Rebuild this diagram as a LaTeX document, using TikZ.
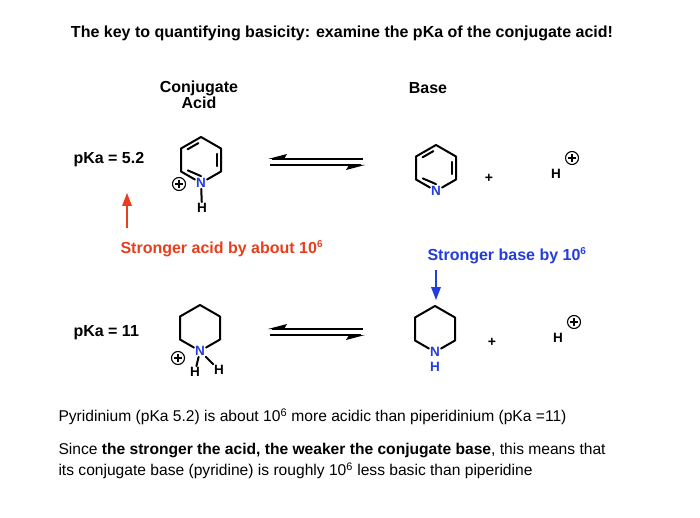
\documentclass[tikz,border=0pt]{standalone}
\usepackage{fontspec}
\setmainfont{Liberation Sans}
\usetikzlibrary{calc}
\definecolor{myred}{RGB}{232,62,30}
\definecolor{myblue}{RGB}{35,60,220}
\tikzset{
  bond/.style={line width=2pt,line cap=round,line join=round},
  atomN/.style={text=myblue,font=\bfseries\fontsize{13.5}{13.5}\selectfont,inner sep=1pt},
  atomH/.style={font=\bfseries\fontsize{13.5}{13.5}\selectfont,inner sep=1pt},
  lbl/.style={font=\bfseries\fontsize{16}{16}\selectfont,align=center},
  body/.style={font=\fontsize{15.6}{17}\selectfont,anchor=west}
}
\newcommand{\ringat}[3]{%
  \coordinate (#1c) at (#2,#3);
  \coordinate (#11) at (#2,#3-23);
  \coordinate (#12) at (#2+20,#3-11.5);
  \coordinate (#13) at (#2+20,#3+11.5);
  \coordinate (#14) at (#2,#3+23);
  \coordinate (#15) at (#2-20,#3+11.5);
  \coordinate (#16) at (#2-20,#3-11.5);}
\newcommand{\inner}[3]{\draw[bond,shorten <=3pt,shorten >=3pt] ($(#1#2)!0.2!(#1c)$) -- ($(#1#3)!0.2!(#1c)$);}
\newcommand{\cplus}[2]{\draw[line width=1.1pt] (#1,#2) circle (6.5); \draw[line width=1.1pt] (#1-4,#2)--(#1+4,#2) (#1,#2-4)--(#1,#2+4);}
\begin{document}
\begin{tikzpicture}[x=1pt,y=-1pt]
\useasboundingbox (0,0) rectangle (700,518);
\node[font=\bfseries\fontsize{16}{18}\selectfont] (title) at (342,33) {The key to quantifying basicity: examine the pKa of the conjugate acid!};
\node[lbl,font=\bfseries\fontsize{16}{14}\selectfont] (ca) at (199,95) {Conjugate\\Acid};
\node[lbl] (bs) at (428,88) {Base};
\node[lbl,anchor=west] (pk1) at (70,160) {pKa = 5.2};
\node[lbl,anchor=west] (pk2) at (70,333) {pKa = 11};
% pyridinium
\ringat{a}{201}{160}
\node[atomN] (aN) at (a4) {N};
\draw[bond] (aN) -- (a3) -- (a2) -- (a1) -- (a6) -- (a5) -- (aN);
\inner{a}{1}{6}\inner{a}{2}{3}
\draw[bond,shorten <=3pt] ($(a5)!0.2!(ac)$) -- ($(aN.center)!0.3!(ac)$);
\node[atomH] (aH) at (202,208) {H};
\draw[bond] (aN) -- (aH);
\cplus{179}{184}
% pyridine
\ringat{b}{436}{168}
\node[atomN] (bN) at (b4) {N};
\draw[bond] (bN) -- (b3) -- (b2) -- (b1) -- (b6) -- (b5) -- (bN);
\inner{b}{1}{6}\inner{b}{2}{3}
\draw[bond,shorten <=3pt] ($(b5)!0.2!(bc)$) -- ($(bN.center)!0.3!(bc)$);
% piperidinium
\ringat{c}{200}{328}
\node[atomN] (cN) at (c4) {N};
\draw[bond] (cN) -- (c3) -- (c2) -- (c1) -- (c6) -- (c5) -- (cN);
\node[atomH] (cH1) at (195,372) {H};
\node[atomH] (cH2) at (219,370) {H};
\draw[bond] (cN) -- (cH1); \draw[bond] (cN) -- (cH2);
\cplus{178}{358}
% piperidine
\ringat{d}{435}{329}
\node[atomN] (dN) at (d4) {N};
\draw[bond] (dN) -- (d3) -- (d2) -- (d1) -- (d6) -- (d5) -- (dN);
\node[atomH,text=myblue] (dH) at (435,367) {H};
% equilibrium arrows
\foreach \y in {159,329}{
  \draw[line width=1.4pt] (272,\y) -- (363,\y);
  \draw[line width=1.4pt] (270,\y+6) -- (361,\y+6);
  \fill (268,\y) -- (287,\y-5) -- (284,\y) -- cycle;
  \fill (365,\y+6) -- (346,\y+11) -- (349,\y+6) -- cycle;
}
% plus and protons
\node[lbl,font=\bfseries\fontsize{14}{14}\selectfont] (pl1) at (489,178) {+};
\node[lbl,font=\bfseries\fontsize{14}{14}\selectfont] (pl2) at (492,342) {+};
\node[atomH] (h1) at (556,174) {H};
\node[atomH] (h2) at (558,338) {H};
\cplus{572}{158}
\cplus{574}{322}
% coloured arrows & labels
\node[lbl,text=myred,anchor=west] (sa) at (117,249) {Stronger acid by about 10\textsuperscript{\fontsize{10}{10}\selectfont 6}};
\node[lbl,text=myblue,anchor=west] (sb) at (424,256) {Stronger base by 10\textsuperscript{\fontsize{10}{10}\selectfont 6}};
\coordinate (ra1) at (127,228); \coordinate (ra2) at (127,193);
\draw[myred,line width=1.8pt] (ra1) -- (127,203);
\fill[myred] (ra2) -- (122,206) -- (132,206) -- cycle;
\coordinate (ba1) at (436,270); \coordinate (ba2) at (436,300);
\draw[myblue,line width=1.8pt] (ba1) -- (436,290);
\fill[myblue] (ba2) -- (431,287) -- (441,287) -- cycle;
% body text
\node[body] (t1) at (55,417) {Pyridinium (pKa 5.2) is about 10\textsuperscript{6} more acidic than piperidinium (pKa =11)};
\node[body] (t2) at (55,450) {Since \textbf{the stronger the acid, the weaker the conjugate base}, this means that};
\node[body] (t3) at (55,471) {its conjugate base (pyridine) is roughly 10\textsuperscript{6} less basic than piperidine};
\end{tikzpicture}
\end{document}
